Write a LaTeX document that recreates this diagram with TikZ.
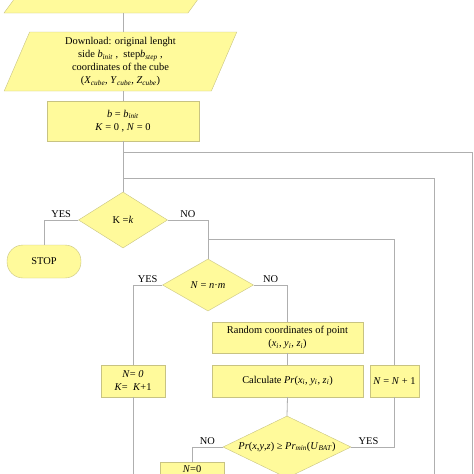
\documentclass[tikz,border=0pt]{standalone}
\usepackage{fontspec}
\setmainfont{Liberation Serif}
\usetikzlibrary{shapes.geometric}

\definecolor{boxfill}{RGB}{255,250,155}
\definecolor{boxline}{RGB}{200,195,130}
\definecolor{linegray}{RGB}{175,175,175}
\newcommand{\vsub}[2]{\textit{#1}\textsubscript{\textit{#2}}}

\begin{document}
\begin{tikzpicture}[x=1pt, y=-1pt,
  every node/.style={font=\fontsize{10.4}{13}\selectfont, align=center},
  block/.style={rectangle, draw=boxline, fill=boxfill, inner sep=2pt},
  io/.style={trapezium, trapezium left angle=73, trapezium right angle=107,
    trapezium stretches=true, draw=boxline, fill=boxfill, inner sep=2pt},
  test/.style={diamond, aspect=2, draw=boxline, fill=boxfill, inner sep=0pt},
  term/.style={rectangle, rounded corners=16pt, draw=boxline, fill=boxfill},
  wire/.style={draw=linegray, line width=0.8pt},
  lab/.style={above, inner sep=2pt}]
  \useasboundingbox (0,0) rectangle (474,474);
  \clip (0,0) rectangle (474,474);

  \node[io, minimum width=227pt, minimum height=59pt] (start) at (117.5,-16.5) {};
  \node[io, minimum width=233pt, minimum height=59pt] (load) at (120.5,61.5)
    {Download: original lenght\\side \vsub{b}{init} ,\ \ step\vsub{b}{step} ,\\
     coordinates of the cube\\(\vsub{X}{cube}, \vsub{Y}{cube}, \vsub{Z}{cube})};
  \node[block, minimum width=152pt, minimum height=40pt] (init) at (123,121)
    {\textit{b} = \vsub{b}{init}\\\textit{K} = 0 , \textit{N} = 0};
  \node[test, minimum width=89pt, minimum height=56pt] (chkK) at (123,220) {K =\textit{k}};
  \node[term, minimum width=74pt, minimum height=33pt] (stop) at (44,261.5) {STOP};
  \node[test, minimum width=91pt, minimum height=52pt] (chkN) at (208,285)
    {\textit{N} = \textit{n}·\textit{m}};
  \node[block, minimum width=64pt, minimum height=32pt] (reset) at (133,381)
    {\textit{N}= \textit{0}\\\textit{K}= \ \textit{K}+1};
  \node[block, minimum width=151pt, minimum height=31pt] (rand) at (287.5,337.5)
    {Random coordinates of point\\(\vsub{x}{i}, \vsub{y}{i}, \vsub{z}{i})};
  \node[block, minimum width=151pt, minimum height=32pt] (calc) at (287.5,381)
    {Calculate \textit{Pr}(\vsub{x}{i}, \vsub{y}{i}, \vsub{z}{i})};
  \node[block, minimum width=49pt, minimum height=32pt] (inc) at (394.5,381)
    {\textit{N} = \textit{N} + 1};
  \node[test, minimum width=128pt, minimum height=62pt] (chkP) at (287,447)
    {\textit{Pr}(\textit{x},\textit{y},\textit{z}) ≥ \vsub{Pr}{min}(\vsub{U}{BAT})};
  \node[block, minimum width=64pt, minimum height=32pt, text depth=18pt] (zero) at (192,478)
    {\textit{N}=0};

  \coordinate (j1) at (123,152);
  \coordinate (j2) at (123,178);
  \coordinate (j3) at (208,239);
  \coordinate (o1) at (472,490);
  \coordinate (o2) at (434,490);
  \coordinate (r1) at (133,490);

  \draw[wire] (start.south -| init.north) -- (load.north -| init.north);
  \draw[wire] (load.south -| init.north) -- (init.north);
  \draw[wire] (init.south) -- (chkK.north);
  \draw[wire] (j1) -| (o1);
  \draw[wire] (j2) -| (o2);
  \draw[wire] (chkK.west) -| node[lab, pos=0.25] {YES} (stop.north);
  \draw[wire] (chkK.east) -| node[lab, pos=0.25] {NO} (chkN.north);
  \draw[wire] (chkN.west) -| node[lab, pos=0.25] {YES} (reset.north);
  \draw[wire] (reset.south) -- (reset.south |- r1);
  \draw[wire] (chkN.east) -| node[lab, pos=0.25] {NO} (rand.north);
  \draw[wire] (rand.south) -- (calc.north);
  \draw[wire] (calc.south) -- (chkP.north);
  \draw[wire] (chkP.west) -| node[lab, pos=0.25] {NO} (zero.north);
  \draw[wire] (chkP.east) -| node[lab, pos=0.2] {YES} (inc.south);
  \draw[wire] (inc.north) |- (j3);
\end{tikzpicture}
\end{document}
